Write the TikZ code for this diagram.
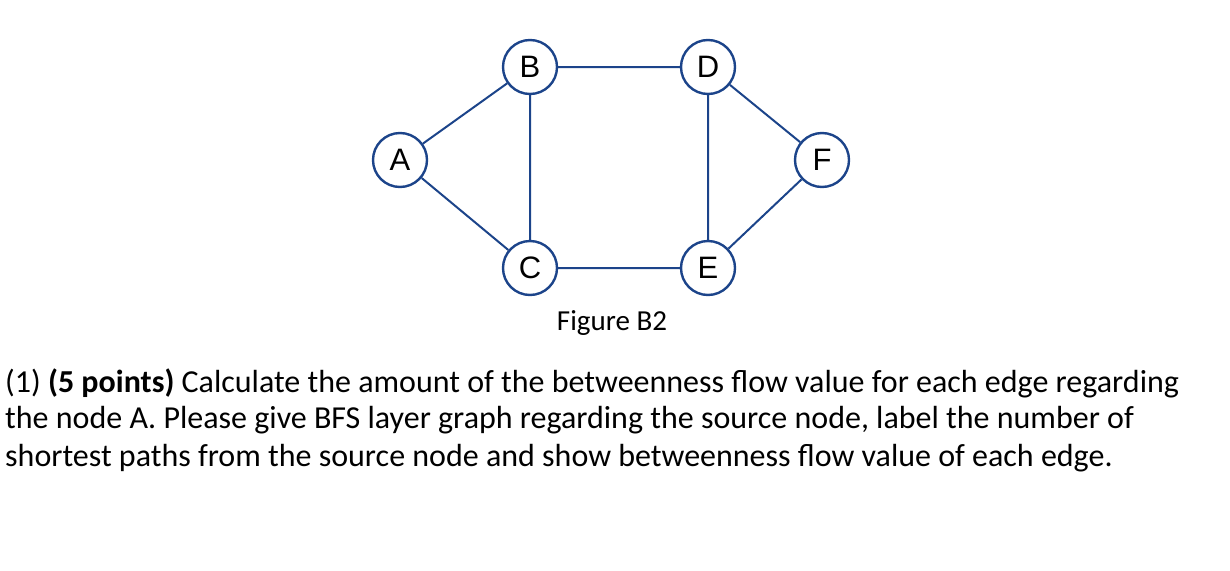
\documentclass[tikz,border=0pt]{standalone}
\usepackage{fontspec}
\setmainfont{Carlito}
\newfontfamily\arialf{Liberation Sans}
\definecolor{nodeblue}{RGB}{28,68,138}
\begin{document}
\begin{tikzpicture}[x=1pt,y=-1pt,
  vtx/.style={circle,draw=nodeblue,line width=2.4pt,minimum size=54pt,inner sep=0pt,fill=white,font=\arialf\fontsize{31}{31}\selectfont},
  edge/.style={draw=nodeblue,line width=2pt},
  txt/.style={anchor=west,inner sep=0pt,font=\fontsize{32}{36}\selectfont}]
\useasboundingbox (0,0) rectangle (1230,570);
\node[vtx] (A) at (400,160) {A};
\node[vtx] (B) at (530,67) {B};
\node[vtx] (C) at (530,268) {C};
\node[vtx] (D) at (708,67) {D};
\node[vtx] (E) at (708,268) {E};
\node[vtx] (F) at (822,160) {F};
\draw[edge] (A)--(B) (A)--(C) (B)--(C) (B)--(D) (C)--(E) (D)--(E) (D)--(F) (E)--(F);
\node[inner sep=0pt,font=\fontsize{29}{32}\selectfont] (cap) at (612,323) {Figure B2};
\node[txt] (l1) at (5,383) {(1) \textbf{(5 points)} Calculate the amount of the betweenness flow value for each edge regarding};
\node[txt] (l2) at (5,420) {the node A. Please give BFS layer graph regarding the source node, label the number of};
\node[txt] (l3) at (5,458) {shortest paths from the source node and show betweenness flow value of each edge.};
\end{tikzpicture}
\end{document}
